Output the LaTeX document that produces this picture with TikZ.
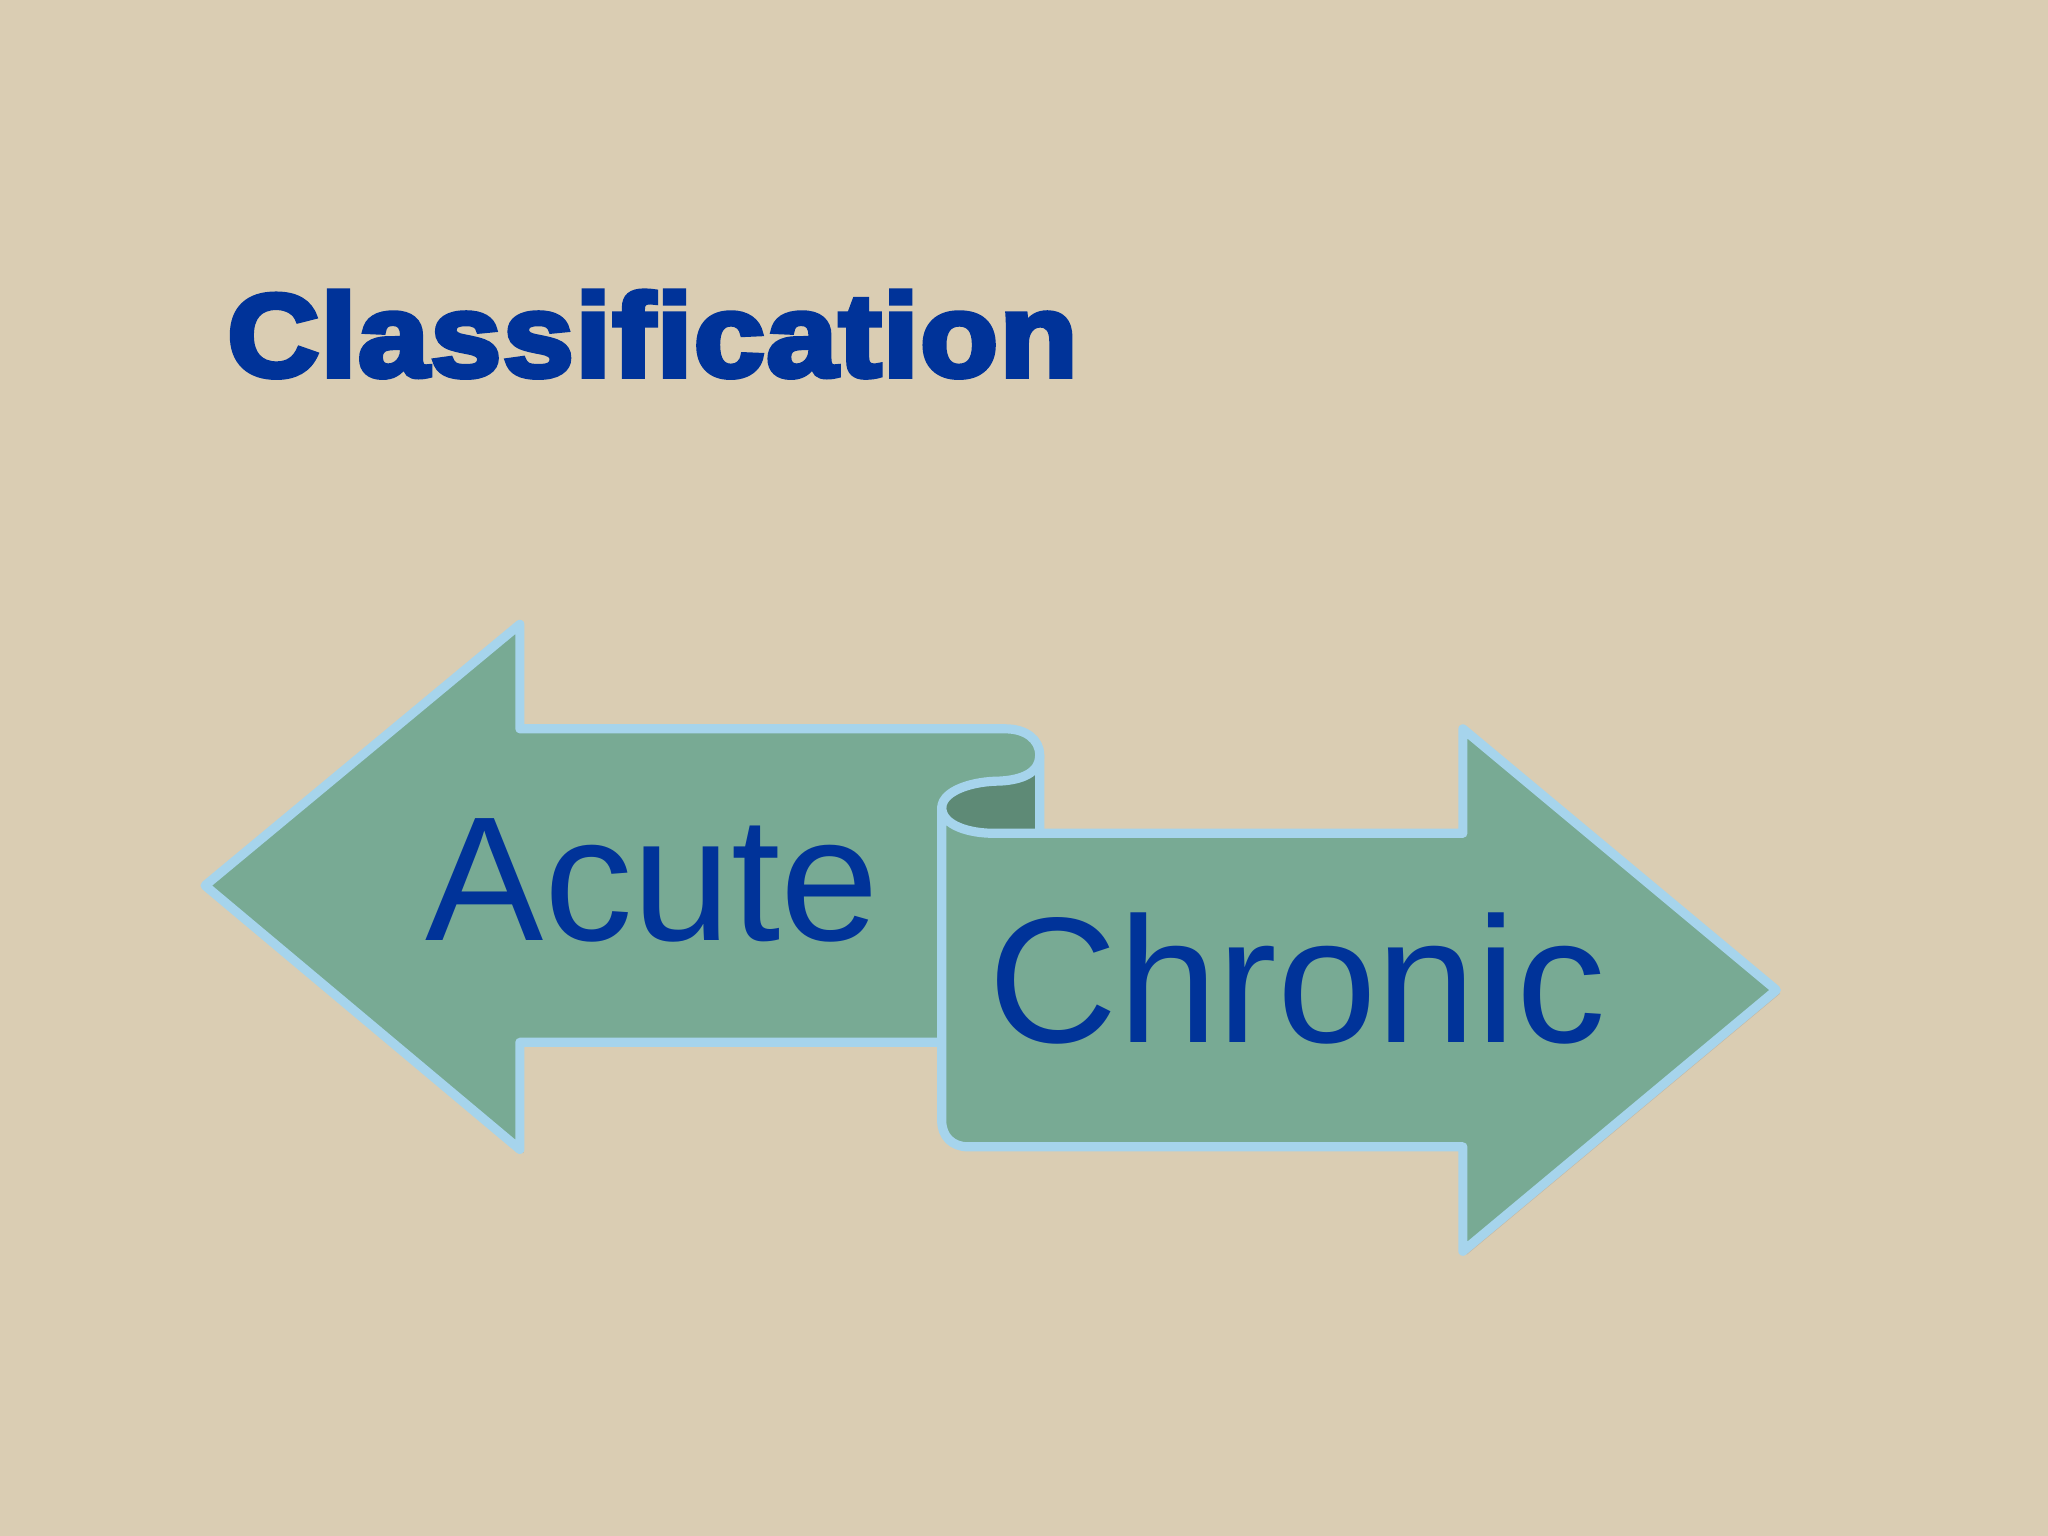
\documentclass[tikz,border=0pt]{standalone}
\usepackage{fontspec}
\setmainfont{Liberation Sans}
\newfontfamily\titlefont[FakeBold=4.5, LetterSpace=1.5]{Liberation Sans Bold}
\usetikzlibrary{shadows}
\definecolor{bg}{RGB}{218,205,179}
\definecolor{ribbon}{RGB}{120,170,148}
\definecolor{rolldark}{RGB}{94,138,118}
\definecolor{rim}{RGB}{166,212,236}
\definecolor{txtblue}{RGB}{0,51,153}
\tikzset{
  arrowbody/.style={fill=ribbon, draw=rim, line width=10pt, line join=round,
    drop shadow={shadow xshift=4pt, shadow yshift=-4pt, opacity=0.25}},
  rimline/.style={draw=rim, line width=10pt, line join=round, line cap=round},
  bigtext/.style={anchor=base west, inner sep=0pt, text=txtblue},
}
\begin{document}
\begin{tikzpicture}[x=0.05cm, y=-0.05cm]
\fill[bg] (0,0) rectangle (1568,1176);
\useasboundingbox (0,0) rectangle (1568,1176);

% title
\node[anchor=base west, inner sep=0pt, text=txtblue] (title) at (174,288)
  {\scalebox{1.08}[1]{\titlefont\fontsize{128}{128}\selectfont Classification}};

% left (back) arrow
\path[arrowbody] (157,678) -- (398,478) -- (398,558) -- (770,558)
  .. controls (785,558) and (796,566) .. (796,578) -- (796,798)
  -- (398,798) -- (398,880) -- cycle;

% inside of the roll
\fill[rolldark] (721,618) .. controls (722,605) and (745,598) .. (766,598)
  .. controls (782,597) and (796,592) .. (796,578) -- (796,640) -- (761,640)
  .. controls (742,638) and (721,632) .. (721,618) -- cycle;
\draw[rimline] (721,618) .. controls (722,605) and (745,598) .. (766,598)
  .. controls (782,597) and (796,592) .. (796,578);
\draw[rimline] (796,578) -- (796,638);

% right (front) arrow
\path[arrowbody] (721,618) -- (721,858) .. controls (721,870) and (729,878) .. (741,878)
  -- (1120,878) -- (1120,958) -- (1360,758) -- (1120,558) -- (1120,638)
  -- (761,638) .. controls (742,638) and (721,632) .. (721,618) -- cycle;

% labels
\node[bigtext, font=\fontsize{193}{193}\selectfont] (acute) at (326,720) {Acute};
\node[bigtext, font=\fontsize{195}{195}\selectfont] (chronic) at (757,798) {Chronic};
\end{tikzpicture}
\end{document}
